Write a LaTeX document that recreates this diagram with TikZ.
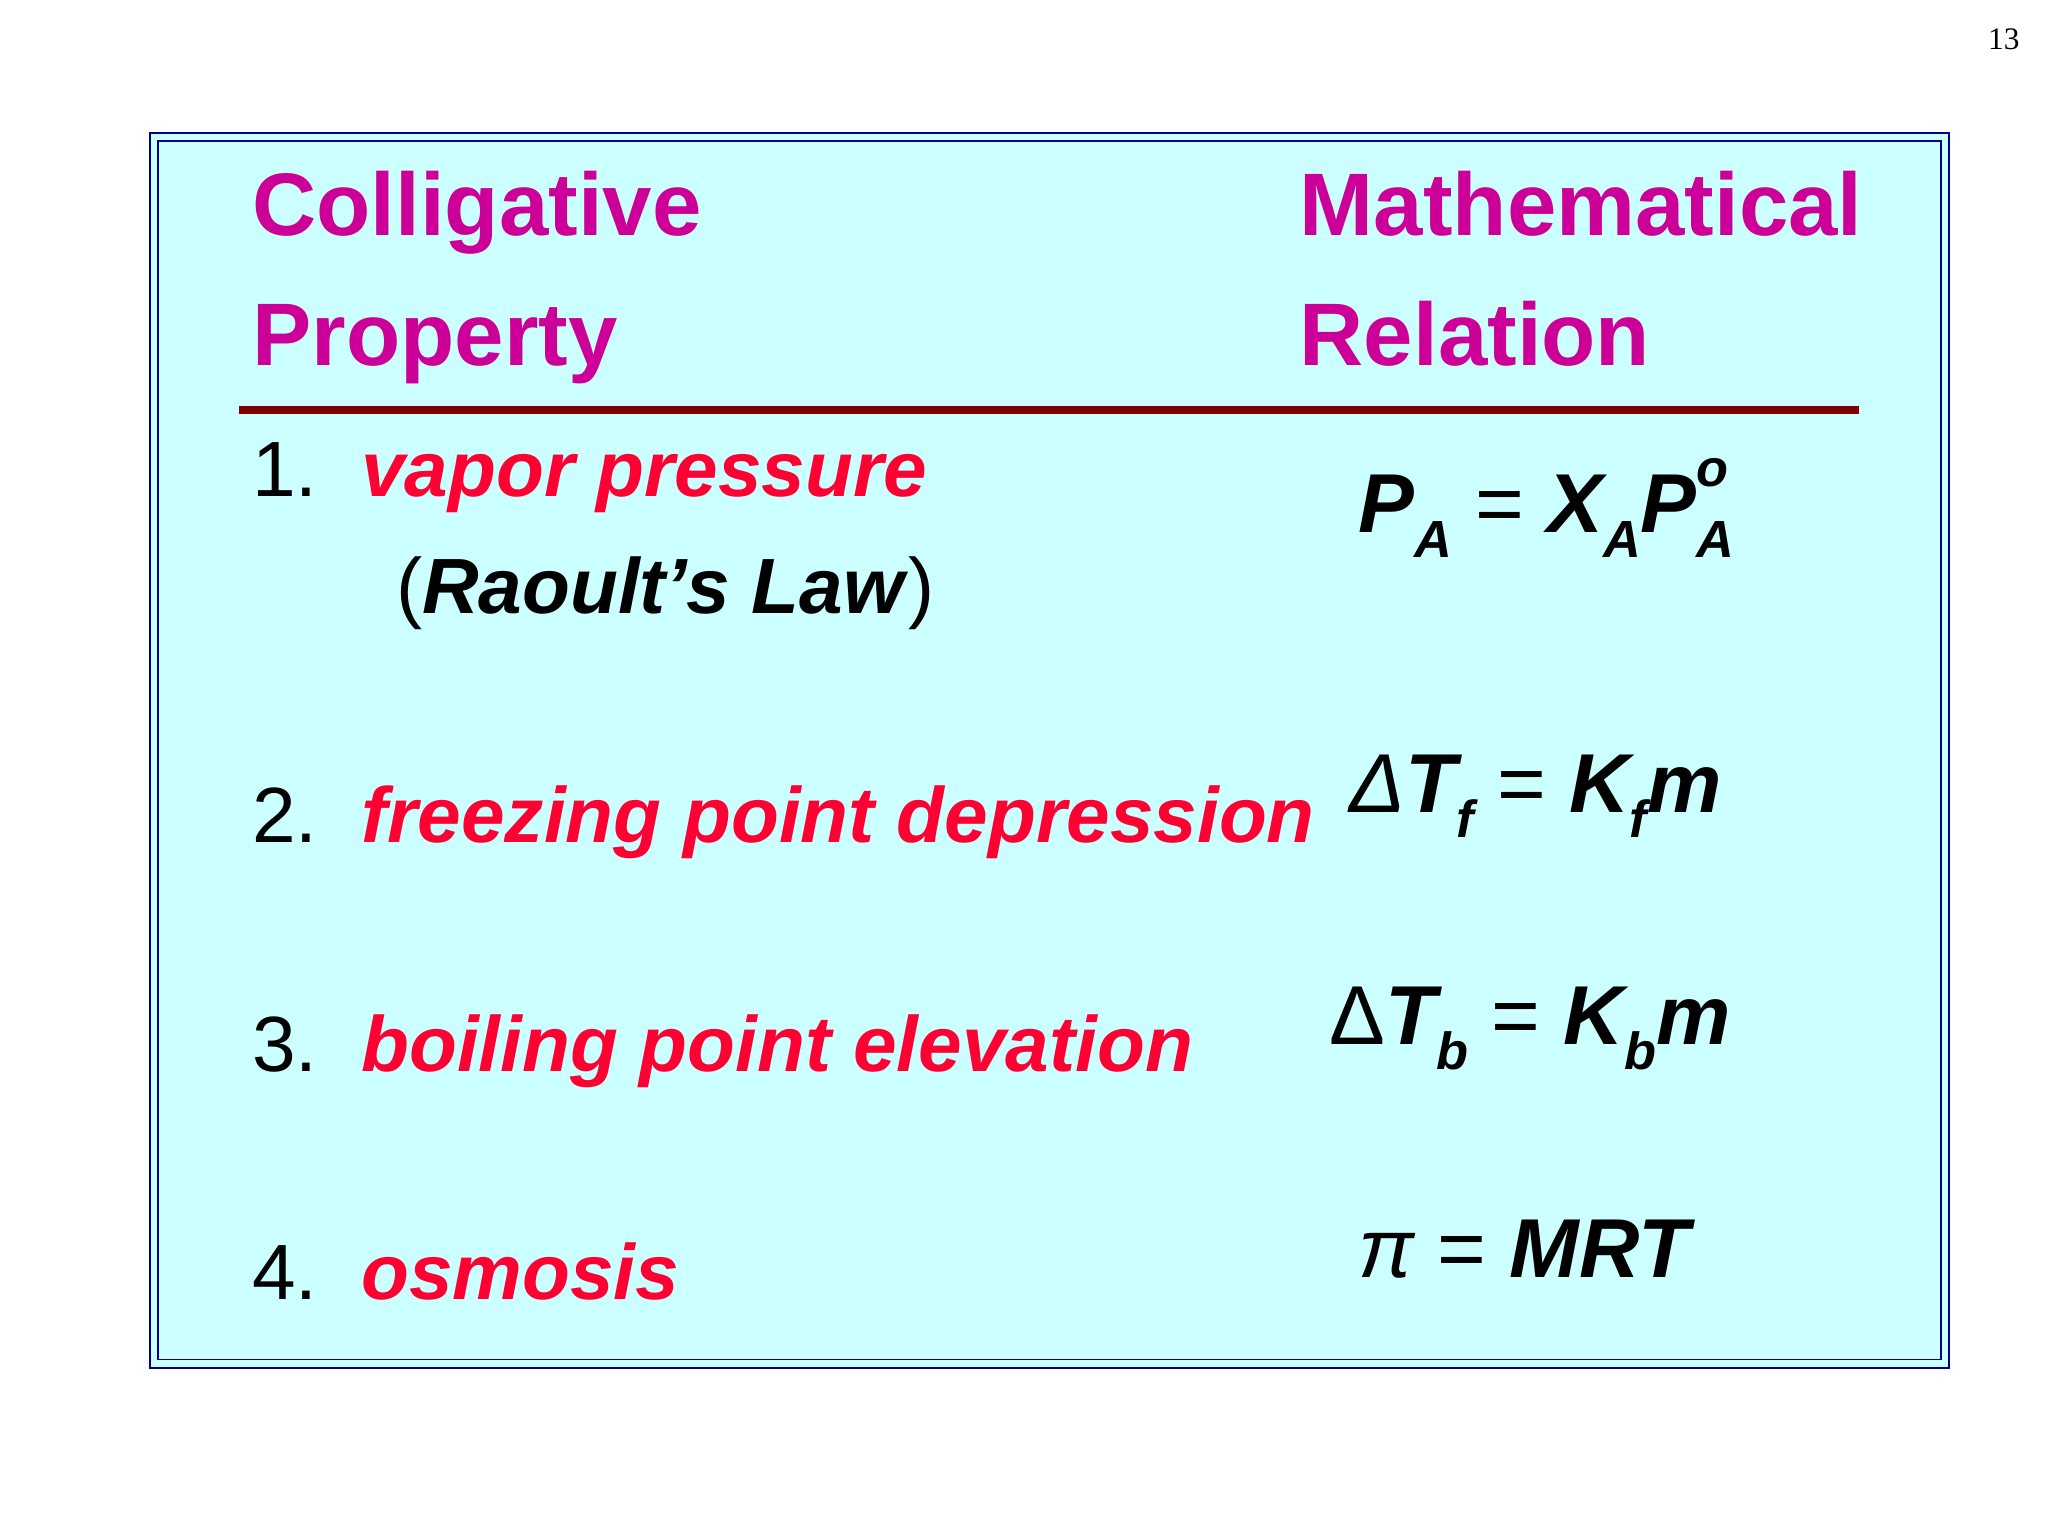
\documentclass[tikz,border=0pt]{standalone}
\usepackage{fontspec}
\setmainfont{Liberation Sans}
\newfontfamily\serifx{Liberation Serif}
\definecolor{hdr}{HTML}{CC0099}
\definecolor{itm}{HTML}{FF0033}
\definecolor{bg}{HTML}{CCFFFF}
\definecolor{frm}{HTML}{000099}
\definecolor{rul}{HTML}{800000}
\begin{document}
\begin{tikzpicture}[x=1pt,y=-1pt,
  every node/.style={inner sep=0pt,anchor=base west},
  head/.style={font=\fontsize{68}{80}\selectfont\bfseries,text=hdr},
  item/.style={font=\fontsize{60}{70}\selectfont},
  eqn/.style={font=\fontsize{64}{70}\selectfont\bfseries\itshape}]
\useasboundingbox (0,0) rectangle (1568,1176);
\fill[white] (0,0) rectangle (1568,1176);
\draw[frm,line width=1.5pt,fill=bg] (115,102) rectangle (1492,1047);
\draw[frm,line width=1.2pt] (121,108) rectangle (1486,1041);
\node[font=\serifx\fontsize{24}{24}\selectfont] (pg) at (1522,38) {13};
\node[head] (h1) at (193,180) {Colligative};
\node[head] (h2) at (193,280) {Property};
\node[head] (h3) at (995,180) {Mathematical};
\node[head] (h4) at (995,280) {Relation};
\coordinate (rl) at (183,314); \coordinate (rr) at (1423,314);
\draw[rul,line width=6pt] (rl) -- (rr);
\node[item] (i1) at (193,380) {1.\ \ \textcolor{itm}{\bfseries\itshape vapor pressure}};
\node[item] (i1b) at (303,470) {(\textbf{\itshape Raoult’s Law})};
\node[item] (i2) at (193,645) {2.\ \ \textcolor{itm}{\bfseries\itshape freezing point depression}};
\node[item] (i3) at (193,820) {3.\ \ \textcolor{itm}{\bfseries\itshape boiling point elevation}};
\node[item] (i4) at (193,995) {4.\ \ \textcolor{itm}{\bfseries\itshape osmosis}};
\node[eqn] (e1) at (1040,408) {P\raisebox{-0.3em}{\fontsize{40}{40}\selectfont A} {\normalfont =} X\raisebox{-0.3em}{\fontsize{40}{40}\selectfont A}P\rlap{\raisebox{0.55em}{\fontsize{40}{40}\selectfont o}}\raisebox{-0.3em}{\fontsize{40}{40}\selectfont A}};
\node[eqn] (e2) at (1033,622) {{\serifx\normalfont\itshape\char"0394}T\raisebox{-0.3em}{\fontsize{40}{40}\selectfont f} {\normalfont =} K\raisebox{-0.3em}{\fontsize{40}{40}\selectfont f}m};
\node[eqn] (e3) at (1018,800) {{\serifx\normalfont\char"0394}T\raisebox{-0.3em}{\fontsize{40}{40}\selectfont b} {\normalfont =} K\raisebox{-0.3em}{\fontsize{40}{40}\selectfont b}m};
\node[eqn] (e4) at (1040,978) {{\serifx\normalfont\itshape\char"03C0} {\normalfont =} MRT};
\end{tikzpicture}
\end{document}
